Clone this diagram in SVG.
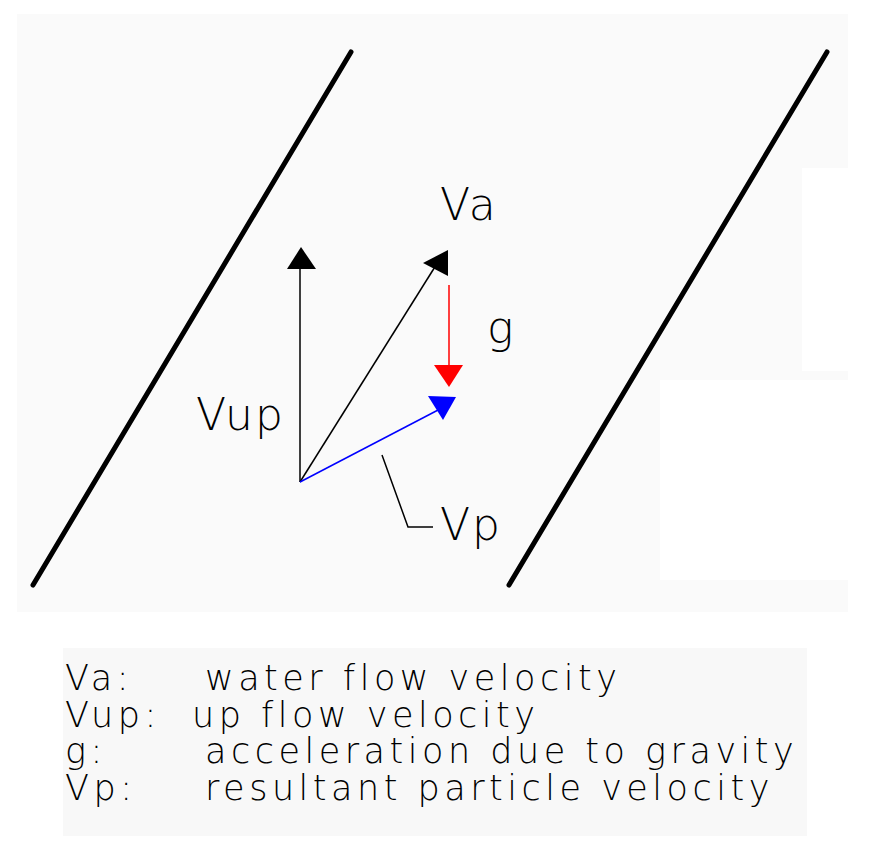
<svg xmlns="http://www.w3.org/2000/svg" width="869" height="862" viewBox="0 0 869 862">
<style>
.wall{stroke:#000;stroke-width:5;stroke-linecap:round}
.t{font-family:"DejaVu Sans","Liberation Sans",sans-serif;font-weight:200;fill:#000}
</style>
<rect width="869" height="862" fill="#fff"/>
<rect x="17" y="14" width="831" height="598" fill="#fafafa"/>
<rect x="802" y="168" width="46" height="203" fill="#fff"/>
<rect x="660" y="380" width="188" height="200" fill="#fff"/>
<rect x="63" y="648" width="744" height="188" fill="#f8f8f8"/>
<g id="walls">
<line class="wall" x1="33" y1="585" x2="351" y2="52"/>
<line class="wall" x1="509" y1="585" x2="827" y2="52"/>
</g>
<g id="connectors">
<line x1="300" y1="482" x2="300" y2="268" stroke="#000" stroke-width="1.5"/>
<polygon points="287,269 301,247 316,269" fill="#000"/>
<line x1="300" y1="482" x2="438" y2="262" stroke="#000" stroke-width="1.5"/>
<polygon points="423,263 448,250 448,276" fill="#000"/>
<line x1="449" y1="285" x2="449" y2="366" stroke="#f00" stroke-width="1.5"/>
<polygon points="434,365 463,365 449,387" fill="#f00"/>
<line x1="300" y1="482" x2="440" y2="409" stroke="#00f" stroke-width="1.5"/>
<polygon points="428,396 456,397 443,420" fill="#00f"/>
<polyline points="382,455 408,527 433,527" fill="none" stroke="#000" stroke-width="1.5"/>
</g>
<g id="labels" class="t" font-size="44" letter-spacing="2">
<text x="440" y="220">Va</text>
<text x="487" y="343">g</text>
<text x="196" y="430">Vup</text>
<text x="440" y="540">Vp</text>
</g>
<g id="legend" class="t" font-size="35" letter-spacing="4.5">
<text x="65" y="690">Va:</text><text x="205" y="690">water flow velocity</text>
<text x="65" y="727">Vup:</text><text x="192" y="727">up flow velocity</text>
<text x="65" y="763">g:</text><text x="205" y="763">acceleration due to gravity</text>
<text x="65" y="800">Vp:</text><text x="205" y="800">resultant particle velocity</text>
</g>
</svg>
